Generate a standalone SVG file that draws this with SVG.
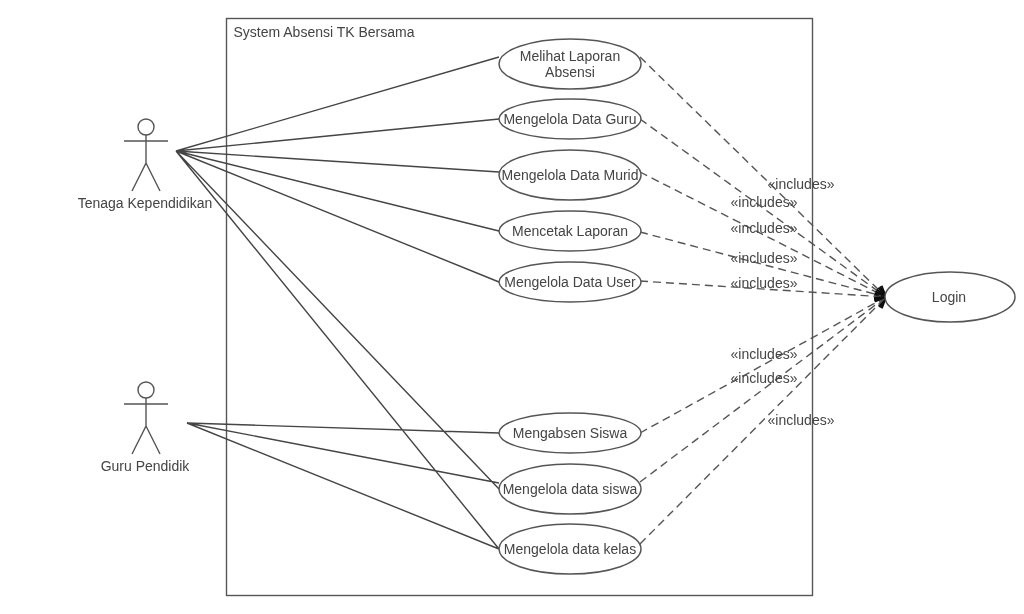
<svg xmlns="http://www.w3.org/2000/svg" width="1024" height="614" viewBox="0 0 1024 614">
<style>
.shape{fill:none;stroke:#555;stroke-width:1.4}
.uc{fill:#fff;stroke:#555;stroke-width:1.5}
.assoc{fill:none;stroke:#444;stroke-width:1.4}
.dep{fill:none;stroke:#555;stroke-width:1.4;stroke-dasharray:8 5;marker-end:url(#open)}
text{font-family:"Liberation Sans",Arial,sans-serif;font-size:14px;fill:#444;text-anchor:middle}
</style>
<defs>
<marker id="open" markerUnits="userSpaceOnUse" markerWidth="14" markerHeight="14" refX="12" refY="7" orient="auto"><path d="M1 2 L12 7 L1 12" fill="none" stroke="#111" stroke-width="2"/></marker>
<filter id="soft" x="-2%" y="-2%" width="104%" height="104%"><feGaussianBlur stdDeviation="0.6"/></filter>
</defs>
<rect width="1024" height="614" fill="#fff"/>
<g filter="url(#soft)">
<g id="system"><rect class="shape" x="226.500" y="18.500" width="586" height="577"/><text x="324" y="36.500">System Absensi TK Bersama</text></g>
<g id="connectors">
<path class="assoc" d="M176 151L499 57M176 151L499 119M176 151L499 172M176 151L499 231M176 151L499 282M176 151L499 489M176 151L499 549M187 423L499 433M187 423L499 483M187 423L499 549"/>
<path class="dep" d="M640 57L886 297"/>
<path class="dep" d="M640 119L886 297"/>
<path class="dep" d="M640 172L886 297"/>
<path class="dep" d="M640 232L886 297"/>
<path class="dep" d="M640 281L886 297"/>
<path class="dep" d="M640 433L886 297"/>
<path class="dep" d="M640 482L886 297"/>
<path class="dep" d="M640 544L886 297"/>
<text x="801" y="189">«includes»</text>
<text x="764" y="207">«includes»</text>
<text x="764" y="233">«includes»</text>
<text x="764" y="263">«includes»</text>
<text x="764" y="288">«includes»</text>
<text x="764" y="359">«includes»</text>
<text x="764" y="383">«includes»</text>
<text x="801" y="425">«includes»</text>
</g>
<g id="actor-tenaga"><circle class="shape" cx="146" cy="127" r="8"/><path class="shape" d="M124 141H168M146 135V163L132 191M146 163L160 191"/><text x="145" y="208">Tenaga Kependidikan</text></g>
<g id="actor-guru"><circle class="shape" cx="146" cy="390" r="8"/><path class="shape" d="M124 404H168M146 398V426L132 454M146 426L160 454"/><text x="145" y="471">Guru Pendidik</text></g>
<g id="uc-laporan-absensi"><ellipse class="uc" cx="570" cy="64" rx="71" ry="25"/><text x="570" y="61">Melihat Laporan</text><text x="570" y="77">Absensi</text></g>
<g id="uc-guru"><ellipse class="uc" cx="570" cy="119" rx="71" ry="20"/><text x="570" y="124">Mengelola Data Guru</text></g>
<g id="uc-murid"><ellipse class="uc" cx="570" cy="175" rx="71" ry="25"/><text x="570" y="180">Mengelola Data Murid</text></g>
<g id="uc-cetak"><ellipse class="uc" cx="570" cy="231" rx="71" ry="20"/><text x="570" y="236">Mencetak Laporan</text></g>
<g id="uc-user"><ellipse class="uc" cx="570" cy="282" rx="71" ry="20"/><text x="570" y="287">Mengelola Data User</text></g>
<g id="uc-absen"><ellipse class="uc" cx="570" cy="433" rx="71" ry="20"/><text x="570" y="438">Mengabsen Siswa</text></g>
<g id="uc-siswa"><ellipse class="uc" cx="570" cy="489" rx="71" ry="25"/><text x="570" y="494">Mengelola data siswa</text></g>
<g id="uc-kelas"><ellipse class="uc" cx="570" cy="549" rx="71" ry="25"/><text x="570" y="554">Mengelola data kelas</text></g>
<g id="uc-login"><ellipse class="uc" cx="950" cy="297" rx="65" ry="25"/><text x="949" y="302">Login</text></g>
</g>
</svg>
